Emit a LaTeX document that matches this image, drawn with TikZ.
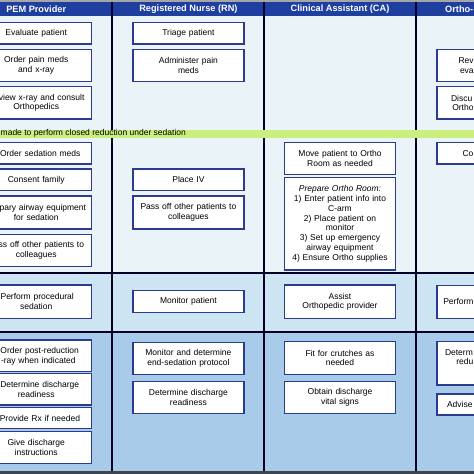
\documentclass[tikz,border=0pt]{standalone}
\usepackage{fontspec}
\setmainfont{Liberation Sans}
\usetikzlibrary{positioning}
\usepackage{xcolor}
\definecolor{mypale}{HTML}{EAF4F8}
\definecolor{mylight}{HTML}{CDE4F2}
\definecolor{mymid}{HTML}{A7CBE9}
\definecolor{mylime}{HTML}{CBEF7E}
\definecolor{myhead}{HTML}{1F3FA0}
\definecolor{mynavy}{HTML}{2B3B8F}
\definecolor{myfoot}{HTML}{3C4650}
\colorlet{myline}{black!85!blue}
\tikzset{
  lane title/.style={text=white,font=\fontsize{9.2}{11}\selectfont\bfseries,inner sep=0},
  divider/.style={myline,line width=1.6pt},
  task/.style={draw=mynavy,line width=1.2pt,fill=white,minimum width=111,text width=105,
    inner xsep=3,inner ysep=1,align=center,font=\fontsize{8.5}{9.8}\selectfont},
  task cut/.style={task,text width=111,inner xsep=0,align=left},
  banner/.style={font=\fontsize{8.5}{9.8}\selectfont,inner sep=0,anchor=west}
}
\begin{document}
\begin{tikzpicture}[x=1pt,y=-1pt]
  \useasboundingbox (0,0) rectangle (474,474);
  \clip (0,0) rectangle (474,474);

  % --- LANE BACKGROUNDS ---
  \fill[gray!70] (0,0) rectangle (474,2);
  \fill[myhead] (0,2) rectangle (474,16);
  \fill[mypale] (0,16) rectangle (474,273);
  \fill[mylight] (0,273) rectangle (474,332);
  \fill[mymid] (0,332) rectangle (474,471);
  \fill[myfoot] (0,471) rectangle (474,474);

  % --- LANE DIVIDERS ---
  \foreach \x in {112,264,416} {
    \draw[divider] (\x,2) -- (\x,129.5);
    \draw[divider] (\x,137.5) -- (\x,471);
  }
  \draw[divider] (0,273) -- (474,273);
  \draw[divider] (0,332) -- (474,332);

  % --- DECISION BAND ---
  \fill[mylime] (0,129.5) rectangle (474,137.5);
  \node[banner] (decision) at (0.5,133.8) {made to perform closed reduction under sedation};

  % --- LANE TITLES ---
  \node[lane title] (head-pem) at (36.2,8.8) {PEM Provider};
  \node[lane title] (head-rn) at (188.4,8.8) {Registered Nurse (RN)};
  \node[lane title] (head-ca) at (340,8.8) {Clinical Assistant (CA)};
  \node[lane title, anchor=west] (head-ortho) at (445,8.8) {Ortho-};

  % --- PEM PROVIDER (x=36.2) ---
  \node[task, minimum height=21.3] (pem-1) at (36.2,33.4) {Evaluate patient};
  \node[task, minimum height=32.4] (pem-2) at (36.2,65.5) {Order pain meds\\and x-ray};
  \node[task, minimum height=32.3] (pem-3) at (36.2,102.9) {\phantom{Re}view x-ray and consult\\Orthopedics};
  \node[task, minimum height=21.3] (pem-4) at (36.2,153.4) {\hspace*{8pt}Order sedation meds};
  \node[task, minimum height=21.7] (pem-5) at (36.2,179.9) {Consent family};
  \node[task, minimum height=33] (pem-6) at (36.2,212.5) {\phantom{Pre}pary airway equipment\\for sedation};
  \node[task, minimum height=32.4] (pem-7) at (36.2,250.5) {\phantom{Pa}ss off other patients to\\colleagues};
  \node[task, minimum height=33.3] (pem-8) at (36.2,301.7) {\hspace*{2pt}Perform procedural\\sedation};
  \node[task, minimum height=31.7] (pem-9) at (36.2,355.9) {\hspace*{7pt}Order post-reduction\\\phantom{x}-ray when indicated};
  \node[task, minimum height=31.7] (pem-10) at (36.2,389.2) {\hspace*{7pt}Determine discharge\\readiness};
  \node[task, minimum height=20.6] (pem-11) at (36.2,418) {\hspace*{7.5pt}Provide Rx if needed};
  \node[task, minimum height=31.6] (pem-12) at (36.2,447.5) {Give discharge\\instructions};

  % --- REGISTERED NURSE (x=188.4) ---
  \node[task, minimum height=21.3] (rn-1) at (188.4,33.4) {Triage patient};
  \node[task, minimum height=32.4] (rn-2) at (188.4,65.5) {Administer pain\\meds};
  \node[task, minimum height=21.7] (rn-3) at (188.4,179.9) {Place IV};
  \node[task, minimum height=33] (rn-4) at (188.4,212.5) {Pass off other patients to\\colleagues};
  \node[task, minimum height=22] (rn-5) at (188.4,301.7) {Monitor patient};
  \node[task, minimum height=32] (rn-6) at (188.4,358.3) {Monitor and determine\\end-sedation protocol};
  \node[task, minimum height=31.6] (rn-7) at (188.4,397.5) {Determine discharge\\readiness};

  % --- CLINICAL ASSISTANT (x=340) ---
  \node[task, minimum height=32] (ca-1) at (340,158.3) {Move patient to Ortho\\Room as needed};
  \node[task, minimum height=92.7] (ca-2) at (340,223.7) {\textit{Prepare Ortho Room:}\\1) Enter patient info into\\C-arm\\2) Place patient on\\monitor\\3) Set up emergency\\airway equipment\\4) Ensure Ortho supplies};
  \node[task, minimum height=33.3] (ca-3) at (340,301.7) {Assist\\Orthopedic provider};
  \node[task, minimum height=32.6] (ca-4) at (340,358) {Fit for crutches as\\needed};
  \node[task, minimum height=31.6] (ca-5) at (340,397.5) {Obtain discharge\\vital signs};

  % --- ORTHO (x=492.5, cut at the edge) ---
  \node[task cut, minimum height=32.4] (or-1) at (492.5,65.5) {\hspace*{21.5pt}Rev\\\hspace*{23pt}eva};
  \node[task cut, minimum height=32.3] (or-2) at (492.5,102.9) {\hspace*{14pt}Discu\\\hspace*{15.3pt}Ortho};
  \node[task cut, minimum height=21.3] (or-3) at (492.5,153.4) {\hspace*{25.5pt}Co};
  \node[task cut, minimum height=33] (or-4) at (492.5,301.7) {\hspace*{6.3pt}Perform};
  \node[task cut, minimum height=43.3] (or-5) at (492.5,363.4) {\hspace*{8pt}Determ\\\hspace*{19.3pt}redu\\\strut};
  \node[task cut, minimum height=21] (or-6) at (492.5,404.5) {\hspace*{10pt}Advise};

\end{tikzpicture}
\end{document}
